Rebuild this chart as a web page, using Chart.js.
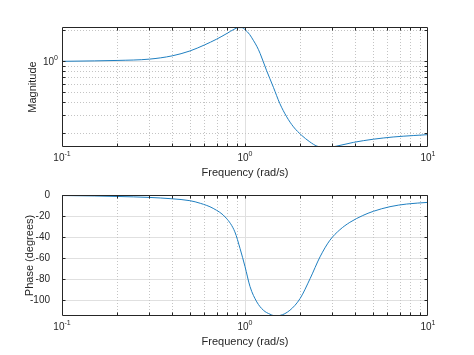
<!DOCTYPE html>
<html>
<head>
<meta charset="utf-8">
<script src="https://cdn.jsdelivr.net/npm/chart.js@4/dist/chart.umd.min.js"></script>
<style>
  html, body { margin: 0; padding: 0; background: #ffffff; }
  canvas { display: block; }
</style>
</head>
<body>
<canvas id="mag" width="474" height="180"></canvas>
<canvas id="pha" width="474" height="175"></canvas>
<script>
// ---- data ----
const magFreq = [0.1, 0.15, 0.2, 0.3, 0.4, 0.5, 0.6, 0.7, 0.8, 0.87, 0.92, 0.96, 1.0, 1.06, 1.11, 1.16, 1.21, 1.31, 1.43, 1.55, 1.69, 1.84, 2.04, 2.26, 2.47, 2.8, 3.17, 3.91, 5.02, 6.45, 8.3, 10];
const magnitude = [1.0, 1.01, 1.02, 1.05, 1.13, 1.26, 1.44, 1.64, 1.87, 2.04, 2.12, 2.12, 2.03, 1.82, 1.60, 1.40, 1.19, 0.82, 0.56, 0.39, 0.29, 0.232, 0.192, 0.166, 0.151, 0.146, 0.151, 0.164, 0.176, 0.185, 0.191, 0.195];

const phaseFreq = [0.1, 0.15, 0.2, 0.3, 0.4, 0.5, 0.57, 0.67, 0.79, 0.88, 0.94, 1.0, 1.065, 1.16, 1.26, 1.37, 1.46, 1.55, 1.76, 2.0, 2.27, 2.57, 2.91, 3.3, 3.74, 4.4, 5.03, 6.2, 7.63, 10];
const phase = [-0.5, -0.9, -1.4, -2.3, -3.6, -5.4, -7.9, -12.7, -22, -35, -51, -68, -87, -101.6, -109.5, -113.3, -114.8, -114.5, -109.5, -98.4, -79.4, -58.8, -43, -33, -26, -19.5, -15.5, -11.1, -8.6, -7.0];

const freqTicks = [0.1, 1, 10];
const freqTickExp = ['-1', '0', '1'];
const freqMinorGrid = [0.2, 0.3, 0.4, 0.5, 0.6, 0.7, 0.8, 0.9, 2, 3, 4, 5, 6, 7, 8, 9];
const freqMajorGrid = [1];
const magTicks = [1];
const magTickExp = ['0'];
const magMinorGrid = [0.2, 0.3, 0.4, 0.5, 0.6, 0.7, 0.8, 0.9, 2];
const magMajorGrid = [1];
const phaseTicks = [-100, -80, -60, -40, -20, 0];

const FONT = "'Liberation Sans', Arial, Helvetica, sans-serif";
const TXT = '#262626';

function drawPow(ctx, exp, x, y, align) {
  // draws "10" with a raised exponent; (x,y) = anchor, y = vertical middle of "10"
  ctx.font = '10px ' + FONT;
  const wb = ctx.measureText('10').width;
  ctx.font = '7px ' + FONT;
  const we = ctx.measureText(exp).width;
  const total = wb + we;
  let x0 = align === 'center' ? x - total / 2 : x - total;
  ctx.textBaseline = 'middle';
  ctx.textAlign = 'left';
  ctx.font = '10px ' + FONT;
  ctx.fillText('10', x0, y);
  ctx.font = '7px ' + FONT;
  ctx.fillText(exp, x0 + wb, y - 4.5);
}

const matlabAxes = {
  id: 'matlabAxes',
  beforeDatasetsDraw(chart, args, o) {
    const {ctx, chartArea: a, scales: {x, y}} = chart;
    ctx.save();
    ctx.lineWidth = 1;
    ctx.strokeStyle = '#e0e0e0';
    ctx.setLineDash([]);
    o.xMajor.forEach(v => { const p = Math.round(x.getPixelForValue(v)) + 0.5; ctx.beginPath(); ctx.moveTo(p, a.top); ctx.lineTo(p, a.bottom); ctx.stroke(); });
    o.yMajor.forEach(v => { const p = Math.round(y.getPixelForValue(v)) + 0.5; ctx.beginPath(); ctx.moveTo(a.left, p); ctx.lineTo(a.right, p); ctx.stroke(); });
    ctx.strokeStyle = '#c4c4c4';
    ctx.setLineDash([1, 2]);
    o.xMinor.forEach(v => { const p = Math.round(x.getPixelForValue(v)) + 0.5; ctx.beginPath(); ctx.moveTo(p, a.top); ctx.lineTo(p, a.bottom); ctx.stroke(); });
    o.yMinor.forEach(v => { const p = Math.round(y.getPixelForValue(v)) + 0.5; ctx.beginPath(); ctx.moveTo(a.left, p); ctx.lineTo(a.right, p); ctx.stroke(); });
    ctx.restore();
  },
  afterDatasetsDraw(chart, args, o) {
    const {ctx, chartArea: a, scales: {x, y}} = chart;
    ctx.save();
    ctx.setLineDash([]);
    ctx.strokeStyle = TXT;
    ctx.lineWidth = 1;
    const L = Math.round(a.left) + 0.5, R = Math.round(a.right) - 0.5;
    const T = Math.round(a.top) + 0.5, B = Math.round(a.bottom) - 0.5;
    ctx.beginPath();
    o.xMajor.concat(o.xMinor).forEach(v => {
      const p = Math.round(x.getPixelForValue(v)) + 0.5;
      ctx.moveTo(p, B); ctx.lineTo(p, B - 3);
      ctx.moveTo(p, T); ctx.lineTo(p, T + 3);
    });
    o.yTickMarks.forEach(v => {
      const p = Math.round(y.getPixelForValue(v)) + 0.5;
      ctx.moveTo(L, p); ctx.lineTo(L + 3, p);
      ctx.moveTo(R, p); ctx.lineTo(R - 3, p);
    });
    ctx.stroke();
    ctx.beginPath();
    ctx.rect(L, T, R - L, B - T);
    ctx.stroke();
    // tick labels (powers of ten)
    ctx.fillStyle = TXT;
    freqTicks.forEach((v, i) => drawPow(ctx, freqTickExp[i], x.getPixelForValue(v), a.bottom + 11.5, 'center'));
    if (o.yPow) {
      o.yPow.ticks.forEach((v, i) => drawPow(ctx, o.yPow.exps[i], a.left - 4, y.getPixelForValue(v) + 1, 'right'));
    }
    ctx.restore();
  }
};

function xScale(titlePadBottom, axisHeight) {
  return {
    type: 'logarithmic',
    min: 0.1, max: 10,
    grid: { display: false },
    border: { display: false },
    afterBuildTicks: s => { s.ticks = freqTicks.map(v => ({value: v})); },
    afterFit: s => { s.height = axisHeight; },
    ticks: { display: false },
    title: {
      display: true, text: 'Frequency (rad/s)', color: TXT,
      font: { family: FONT, size: 11 }, padding: { top: 0, bottom: titlePadBottom }
    }
  };
}

const magData = magFreq.map((f, i) => ({x: f, y: magnitude[i]}));
const phaseData = phaseFreq.map((f, i) => ({x: f, y: phase[i]}));

const lineDs = data => ({
  data, borderColor: '#1f7fc0', borderWidth: 1, pointRadius: 0,
  fill: false, cubicInterpolationMode: 'monotone'
});

new Chart(document.getElementById('mag'), {
  type: 'line',
  data: { datasets: [lineDs(magData)] },
  plugins: [matlabAxes],
  options: {
    responsive: false, animation: false, devicePixelRatio: 1,
    layout: { padding: { left: 0, right: 46, top: 27, bottom: 0 } },
    plugins: {
      legend: { display: false }, tooltip: { enabled: false },
      matlabAxes: {
        xMajor: freqMajorGrid, xMinor: freqMinorGrid, yMajor: magMajorGrid, yMinor: magMinorGrid,
        yTickMarks: magMajorGrid.concat(magMinorGrid), yPow: { ticks: magTicks, exps: magTickExp }
      }
    },
    scales: {
      x: xScale(0, 33),
      y: {
        type: 'logarithmic', min: 0.148, max: 2.15,
        grid: { display: false }, border: { display: false },
        afterBuildTicks: s => { s.ticks = magTicks.map(v => ({value: v})); },
        afterFit: s => { s.width = 62; },
        ticks: { display: false },
        title: { display: true, text: 'Magnitude', color: TXT, font: { family: FONT, size: 11 }, padding: { top: 26, bottom: 0 } }
      }
    }
  }
});

new Chart(document.getElementById('pha'), {
  type: 'line',
  data: { datasets: [lineDs(phaseData)] },
  plugins: [matlabAxes],
  options: {
    responsive: false, animation: false, devicePixelRatio: 1,
    layout: { padding: { left: 0, right: 46, top: 15, bottom: 0 } },
    plugins: {
      legend: { display: false }, tooltip: { enabled: false },
      matlabAxes: { xMajor: freqMajorGrid, xMinor: freqMinorGrid, yMajor: phaseTicks, yMinor: [], yTickMarks: phaseTicks }
    },
    scales: {
      x: xScale(6, 39),
      y: {
        type: 'linear', min: -115, max: 0,
        grid: { display: false }, border: { display: false },
        afterBuildTicks: s => { s.ticks = phaseTicks.map(v => ({value: v})); },
        afterFit: s => { s.width = 62; },
        ticks: { padding: 4, color: TXT, font: { family: FONT, size: 10 }, callback: v => String(v) },
        title: { display: true, text: 'Phase (degrees)', color: TXT, font: { family: FONT, size: 11 }, padding: { top: 23, bottom: 0 } }
      }
    }
  }
});
</script>
</body>
</html>
